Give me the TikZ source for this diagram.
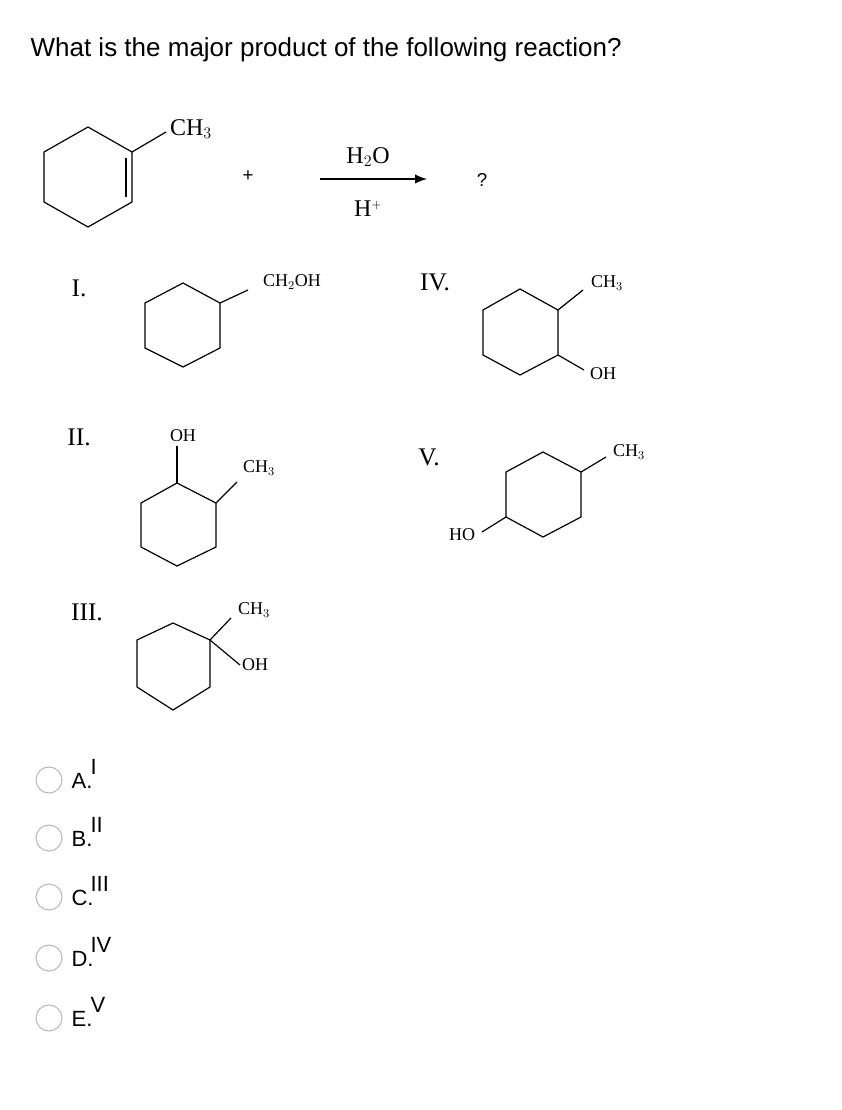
\documentclass[tikz,border=0pt]{standalone}
\usepackage{fontspec}
\usetikzlibrary{arrows.meta}
\setmainfont{Liberation Sans}
\newfontfamily\chem{Liberation Serif}
\begin{document}
\begin{tikzpicture}[x=0.75pt,y=-0.75pt,line width=0.9pt,
  bond/.style={line width=0.9pt,line join=round},
  lab/.style={font=\chem\fontsize{13.5}{13.5}\selectfont,inner sep=0pt},
  rlab/.style={font=\chem\fontsize{18}{18}\selectfont,inner sep=0pt},
  num/.style={font=\chem\fontsize{19}{19}\selectfont,inner sep=0pt},
  opt/.style={font=\fontsize{16.5}{17}\selectfont,inner sep=0pt,anchor=base west},
  rad/.style={draw=gray!55,line width=0.8pt,fill=white,circle,minimum size=19.5pt,inner sep=0pt}]
\useasboundingbox (0,0) rectangle (842,1110);
\node[anchor=base west,inner sep=0pt,font=\fontsize{19.5}{20}\selectfont] (q) at (30,56) {What is the major product of the following reaction?};
% reactant
\draw[bond] (88,127)--(132,152)--(132,202)--(88,227)--(44,202)--(44,152)--cycle;
\draw[bond] (126,158)--(126,197);
\coordinate (m0) at (132,152);
\node[rlab] (rch3) at (191,129) {CH$_3$};
\draw[bond] (m0)--(166,132);
\node[font=\fontsize{14}{14}\selectfont] (plus) at (248,176) {+};
\coordinate (a1) at (320,179); \coordinate (a2) at (427,179);
\draw[line width=0.9pt,-{Latex[length=9pt,width=7pt]}] (a1)--(a2);
\node[rlab] (h2o) at (368,157) {H$_2$O};
\node[rlab] (hp) at (368,209) {H$^{\scriptscriptstyle +}$};
\node[font=\fontsize{14}{14}\selectfont] (qm) at (482,180) {?};
% I
\node[num] (nI) at (79,288) {I.};
\draw[bond] (183,283)--(220,303)--(220,348)--(183,367)--(145,348)--(145,303)--cycle;
\draw[bond] (220,303)--(248,290);
\node[lab] (i1) at (292,282) {CH$_2$OH};
% IV
\node[num] (nIV) at (435,282) {IV.};
\draw[bond] (520,289)--(558,310)--(558,355)--(520,375)--(483,355)--(483,310)--cycle;
\draw[bond] (558,310)--(583,290);
\draw[bond] (558,355)--(584,370);
\node[lab] (iv1) at (607,283) {CH$_3$};
\node[lab] (iv2) at (603,374) {OH};
% II
\node[num] (nII) at (79,437) {II.};
\draw[bond] (177,483)--(216,503)--(216,547)--(177,566)--(141,547)--(141,503)--cycle;
\draw[bond] (177,483)--(177,446);
\draw[bond] (216,503)--(237,482);
\node[lab] (ii1) at (183,436) {OH};
\node[lab] (ii2) at (259,468) {CH$_3$};
% V
\node[num] (nV) at (429,457) {V.};
\draw[bond] (543,452)--(581,472)--(581,517)--(543,537)--(506,517)--(506,472)--cycle;
\draw[bond] (581,472)--(606,457);
\draw[bond] (506,517)--(482,532);
\node[lab] (v1) at (629,452) {CH$_3$};
\node[lab] (v2) at (462,535) {HO};
% III
\node[num] (nIII) at (87,612) {III.};
\draw[bond] (173,623)--(210,640)--(210,687)--(173,710)--(137,687)--(137,640)--cycle;
\draw[bond] (210,640)--(231,618);
\draw[bond] (210,640)--(240,665);
\node[lab] (iii1) at (254,610) {CH$_3$};
\node[lab] (iii2) at (255,665) {OH};
% options
\foreach \i/\y/\L/\R in {a/780/A./I,b/838/B./II,c/897/C./III,d/958/D./IV,e/1018/E./V}{
  \node[rad] (c\i) at (49,\y) {};
  \node[opt] (l\i) at (71,\y+8) {\L};
  \node[opt] (r\i) at (90,\y-6) {\R};
}
\end{tikzpicture}
\end{document}
